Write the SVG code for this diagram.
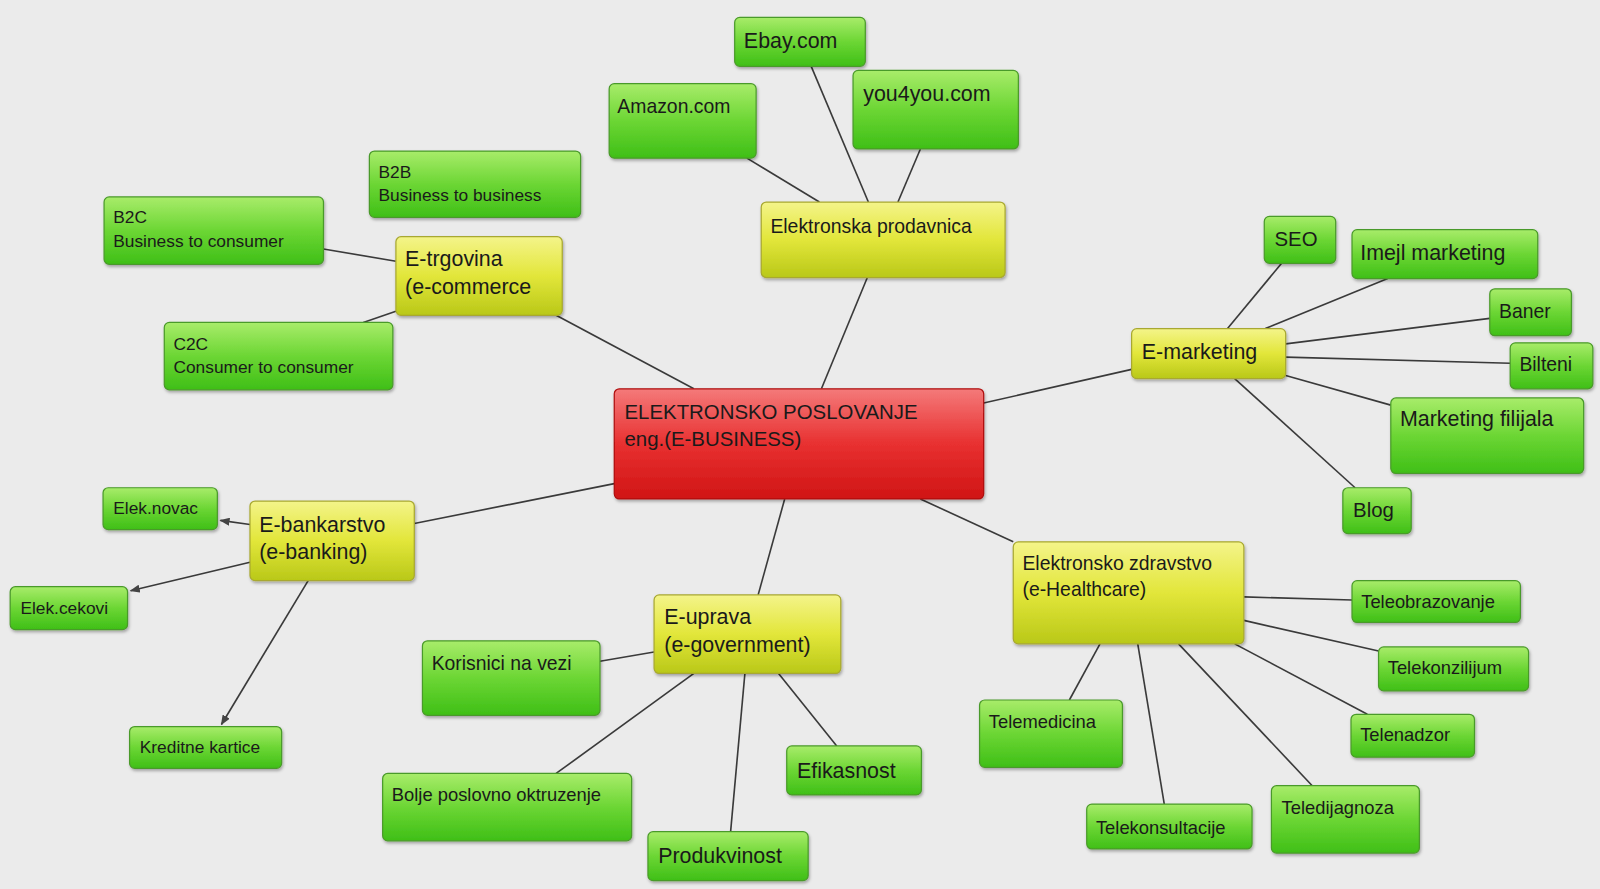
<svg xmlns="http://www.w3.org/2000/svg" width="1600" height="889" viewBox="0 0 1600 889">
<defs>
<linearGradient id="gg" x1="0" y1="0" x2="0" y2="1"><stop offset="0" stop-color="#a8ec6a"/><stop offset="0.5" stop-color="#6cd634"/><stop offset="1" stop-color="#3fbf17"/></linearGradient>
<linearGradient id="gy" x1="0" y1="0" x2="0" y2="1"><stop offset="0" stop-color="#f4f48a"/><stop offset="0.5" stop-color="#e2e63a"/><stop offset="1" stop-color="#b9c818"/></linearGradient>
<linearGradient id="gr" x1="0" y1="0" x2="0" y2="1"><stop offset="0" stop-color="#f47a7a"/><stop offset="0.5" stop-color="#e83030"/><stop offset="1" stop-color="#d01515"/></linearGradient>
<filter id="sh" x="-10%" y="-10%" width="130%" height="140%"><feDropShadow dx="1" dy="2" stdDeviation="1.5" flood-color="#000" flood-opacity="0.3"/></filter>
<marker id="ar" markerWidth="10" markerHeight="8" refX="9" refY="4" orient="auto" markerUnits="userSpaceOnUse"><path d="M0,0 L10,4 L0,8 z" fill="#444"/></marker>
</defs>
<style>
.g{fill:url(#gg);stroke:#4a9a2a;stroke-width:1.2;filter:url(#sh)}
.y{fill:url(#gy);stroke:#a8a830;stroke-width:1.2;filter:url(#sh)}
.r{fill:url(#gr);stroke:#b01010;stroke-width:1.2;filter:url(#sh)}
text{font-family:"Liberation Sans",Arial,sans-serif;fill:#1a1a1a}
.c line{stroke:#3a3a3a;stroke-width:1.6}
</style>
<rect width="1600" height="889" fill="#ebebeb"/>
<g transform="scale(1.0204)">
<g class="c" id="connectors">
<line x1="805" y1="381" x2="850" y2="272"/>
<line x1="803" y1="198" x2="732" y2="155"/>
<line x1="851" y1="198" x2="795" y2="65"/>
<line x1="880" y1="198" x2="902" y2="146"/>
<line x1="680" y1="381" x2="545" y2="309"/>
<line x1="388" y1="256" x2="317" y2="244"/>
<line x1="388" y1="305" x2="356" y2="316"/>
<line x1="964" y1="395" x2="1109" y2="362"/>
<line x1="1203" y1="322" x2="1256" y2="258"/>
<line x1="1240" y1="322" x2="1360" y2="273"/>
<line x1="1260" y1="337" x2="1460" y2="312"/>
<line x1="1260" y1="350" x2="1480" y2="356"/>
<line x1="1260" y1="368" x2="1363" y2="397"/>
<line x1="1210" y1="371" x2="1328" y2="478"/>
<line x1="602" y1="474" x2="406" y2="513"/>
<line x1="245" y1="514" x2="216" y2="510" marker-end="url(#ar)"/>
<line x1="245" y1="551" x2="128" y2="579" marker-end="url(#ar)"/>
<line x1="302" y1="569" x2="217" y2="710" marker-end="url(#ar)"/>
<line x1="769" y1="489" x2="743" y2="583"/>
<line x1="641" y1="639" x2="588" y2="648"/>
<line x1="680" y1="660" x2="545" y2="758"/>
<line x1="730" y1="660" x2="716" y2="815"/>
<line x1="763" y1="660" x2="820" y2="731"/>
<line x1="902" y1="489" x2="993" y2="531"/>
<line x1="1219" y1="585" x2="1325" y2="588"/>
<line x1="1219" y1="608" x2="1351" y2="638"/>
<line x1="1210" y1="631" x2="1340" y2="700"/>
<line x1="1078" y1="631" x2="1048" y2="686"/>
<line x1="1115" y1="631" x2="1141" y2="788"/>
<line x1="1155" y1="631" x2="1286" y2="770"/>
</g>
<g id="center"><rect class="r" x="602" y="381" width="362" height="108" rx="5"/><text x="612" y="411" font-size="20">ELEKTRONSKO POSLOVANJE</text><text x="612" y="437" font-size="20">eng.(E-BUSINESS)</text></g>
<g id="prodavnica"><rect class="y" x="746" y="198" width="239" height="74" rx="5"/><text x="755" y="228" font-size="19">Elektronska prodavnica</text></g>
<g id="ebay"><rect class="g" x="720" y="17" width="128" height="48" rx="5"/><text x="729" y="47" font-size="21">Ebay.com</text></g>
<g id="amazon"><rect class="g" x="597" y="82" width="144" height="73" rx="5"/><text x="605" y="111" font-size="19">Amazon.com</text></g>
<g id="you4you"><rect class="g" x="836" y="69" width="162" height="77" rx="5"/><text x="846" y="99" font-size="21">you4you.com</text></g>
<g id="etrgovina"><rect class="y" x="388" y="232" width="163" height="77" rx="5"/><text x="397" y="261" font-size="21">E-trgovina</text><text x="397" y="288" font-size="21">(e-commerce</text></g>
<g id="b2b"><rect class="g" x="362" y="148" width="207" height="65" rx="5"/><text x="371" y="174" font-size="17">B2B</text><text x="371" y="197" font-size="17">Business to business</text></g>
<g id="b2c"><rect class="g" x="102" y="193" width="215" height="66" rx="5"/><text x="111" y="219" font-size="17">B2C</text><text x="111" y="242" font-size="17">Business to consumer</text></g>
<g id="c2c"><rect class="g" x="161" y="316" width="224" height="66" rx="5"/><text x="170" y="343" font-size="17">C2C</text><text x="170" y="366" font-size="17">Consumer to consumer</text></g>
<g id="emarketing"><rect class="y" x="1109" y="322" width="151" height="49" rx="5"/><text x="1119" y="352" font-size="21">E-marketing</text></g>
<g id="seo"><rect class="g" x="1239" y="212" width="70" height="46" rx="5"/><text x="1249" y="241" font-size="20">SEO</text></g>
<g id="imejl"><rect class="g" x="1325" y="225" width="182" height="48" rx="5"/><text x="1333" y="255" font-size="21">Imejl marketing</text></g>
<g id="baner"><rect class="g" x="1460" y="283" width="80" height="46" rx="5"/><text x="1469" y="312" font-size="19">Baner</text></g>
<g id="bilteni"><rect class="g" x="1480" y="336" width="81" height="45" rx="5"/><text x="1489" y="364" font-size="19">Bilteni</text></g>
<g id="filijala"><rect class="g" x="1363" y="390" width="189" height="74" rx="5"/><text x="1372" y="417" font-size="21">Marketing filijala</text></g>
<g id="blog"><rect class="g" x="1316" y="478" width="67" height="45" rx="5"/><text x="1326" y="507" font-size="20">Blog</text></g>
<g id="ebankarstvo"><rect class="y" x="245" y="491" width="161" height="78" rx="5"/><text x="254" y="521" font-size="21">E-bankarstvo</text><text x="254" y="548" font-size="21">(e-banking)</text></g>
<g id="novac"><rect class="g" x="101" y="478" width="112" height="41" rx="5"/><text x="111" y="504" font-size="17">Elek.novac</text></g>
<g id="cekovi"><rect class="g" x="10" y="575" width="115" height="42" rx="5"/><text x="20" y="602" font-size="17">Elek.cekovi</text></g>
<g id="kartice"><rect class="g" x="127" y="712" width="149" height="41" rx="5"/><text x="137" y="738" font-size="17">Kreditne kartice</text></g>
<g id="euprava"><rect class="y" x="641" y="583" width="183" height="77" rx="5"/><text x="651" y="612" font-size="21">E-uprava</text><text x="651" y="639" font-size="21">(e-government)</text></g>
<g id="korisnici"><rect class="g" x="414" y="628" width="174" height="73" rx="5"/><text x="423" y="657" font-size="19">Korisnici na vezi</text></g>
<g id="bolje"><rect class="g" x="375" y="758" width="244" height="66" rx="5"/><text x="384" y="785" font-size="18">Bolje poslovno oktruzenje</text></g>
<g id="produkvinost"><rect class="g" x="635" y="815" width="157" height="48" rx="5"/><text x="645" y="846" font-size="21">Produkvinost</text></g>
<g id="efikasnost"><rect class="g" x="771" y="731" width="132" height="48" rx="5"/><text x="781" y="762" font-size="21">Efikasnost</text></g>
<g id="zdravstvo"><rect class="y" x="993" y="531" width="226" height="100" rx="5"/><text x="1002" y="559" font-size="19">Elektronsko zdravstvo</text><text x="1002" y="584" font-size="19">(e-Healthcare)</text></g>
<g id="teleobrazovanje"><rect class="g" x="1325" y="569" width="165" height="41" rx="5"/><text x="1334" y="596" font-size="18">Teleobrazovanje</text></g>
<g id="telekonzilijum"><rect class="g" x="1351" y="634" width="147" height="43" rx="5"/><text x="1360" y="661" font-size="18">Telekonzilijum</text></g>
<g id="telenadzor"><rect class="g" x="1324" y="700" width="121" height="42" rx="5"/><text x="1333" y="726" font-size="18">Telenadzor</text></g>
<g id="telemedicina"><rect class="g" x="960" y="686" width="140" height="66" rx="5"/><text x="969" y="713" font-size="18">Telemedicina</text></g>
<g id="telekonsultacije"><rect class="g" x="1065" y="788" width="162" height="44" rx="5"/><text x="1074" y="817" font-size="18">Telekonsultacije</text></g>
<g id="teledijagnoza"><rect class="g" x="1246" y="770" width="145" height="66" rx="5"/><text x="1256" y="798" font-size="18">Teledijagnoza</text></g>
</g>
</svg>
